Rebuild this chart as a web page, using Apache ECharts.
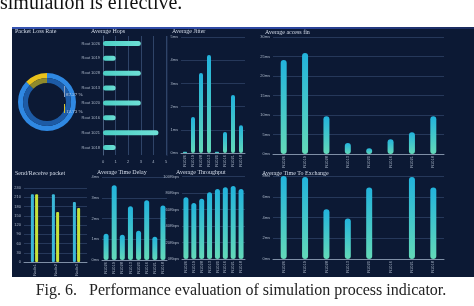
<!DOCTYPE html>
<html><head><meta charset="utf-8">
<script src="https://cdn.jsdelivr.net/npm/echarts@6/dist/echarts.min.js"></script>
<style>html,body{margin:0;padding:0;background:#fff}#c{width:474px;height:306px}</style>
</head><body><div id="c"></div>
<script>
const lossNames = ['Delivered', 'Lost'];
const lossVals = [87.27, 12.73];
const hopsCats = ['Rout 1026','Rout 1019','Rout 1028','Rout 1013','Rout 1020','Rout 1016','Rout 1021','Rout 1018'];
const hopsVals = [3, 1, 3, 1, 3, 1, 4.4, 1];
const jitterCats = ['R1026','R1019','R1028','R1013','R1020','R1016','R1021','R1018'];
const jitterVals = [0.05, 1.55, 3.45, 4.22, 0.05, 0.9, 2.5, 1.2];
const accessCats = ['R1026','R1019','R1028','R1013','R1020','R1016','R1021','R1018'];
const accessVals = [24.1, 25.9, 9.7, 2.8, 1.5, 3.8, 5.6, 9.7];
const srCats = ['Node1', 'Node2', 'Node3'];
const sendVals = [220, 220, 195];
const recvVals = [220, 162, 175];
const delayCats = ['R1026','R1019','R1028','R1013','R1020','R1016','R1021','R1018'];
const delayVals = [1.27, 3.6, 1.22, 2.59, 1.41, 2.88, 1.12, 2.63];
const tputCats = ['R1026','R1019','R1028','R1013','R1020','R1016','R1021','R1018'];
const tputVals = [75, 68, 73, 81, 85, 87, 88.5, 85];
const exchCats = ['R1026','R1019','R1028','R1013','R1020','R1016','R1021','R1018'];
const exchVals = [8.1, 7.9, 4.8, 3.9, 6.9, 0, 7.9, 6.9];

const chart = echarts.init(document.getElementById('c'), null, {renderer: 'canvas'});
const lbl = '#aab6c8';
const split = '#26385a';
const grad = new echarts.graphic.LinearGradient(0, 0, 0, 1, [
  {offset: 0, color: '#22b3dc'}, {offset: 1, color: '#63d9b8'}]);
const hgrad = new echarts.graphic.LinearGradient(0, 0, 1, 0, [
  {offset: 0, color: '#4ccfc4'}, {offset: 1, color: '#6ee0d6'}]);

function g(left, top, width, height) {
  return {left, top, width, height, outerBoundsMode: 'none', containLabel: false};
}
function catX(idx, data) {
  return {type: 'category', gridIndex: idx, data,
    axisLine: {lineStyle: {color: '#7f8fa6', width: 1}}, axisTick: {show: false},
    axisLabel: {color: lbl, fontSize: 4, rotate: 90, margin: 2, interval: 0}};
}
function valY(idx, min, max, interval, unit) {
  return {type: 'value', gridIndex: idx, min, max, interval,
    axisLine: {show: false}, axisTick: {show: false},
    axisLabel: {color: lbl, fontSize: 4, margin: 3, formatter: '{value}' + unit},
    splitLine: {lineStyle: {color: split, width: 1}}};
}
function vbar(idx, data, w) {
  return {type: 'bar', xAxisIndex: idx, yAxisIndex: idx, data, barWidth: w,
    itemStyle: {color: grad, borderRadius: w / 2}};
}

const grids = [
  g(103, 36, 63, 119),
  g(181, 37, 64, 116),
  g(273, 37, 171, 117),
  g(24, 188, 63, 74),
  g(102, 177, 65, 83),
  g(182, 176.5, 63, 82.5),
  g(273, 176, 171, 83)
];

const xAxes = [
  {type: 'value', gridIndex: 0, min: 0, max: 5, interval: 1,
    axisLine: {show: false}, axisTick: {show: false},
    axisLabel: {color: lbl, fontSize: 4, margin: 5},
    splitLine: {lineStyle: {color: '#2f4468', width: 1}}},
  catX(1, jitterCats), catX(2, accessCats), catX(3, srCats),
  catX(4, delayCats), catX(5, tputCats), catX(6, exchCats)
];
const yAxes = [
  {type: 'category', gridIndex: 0, data: hopsCats, inverse: true,
    axisLine: {lineStyle: {color: '#4a5f80'}}, axisTick: {show: false},
    axisLabel: {color: lbl, fontSize: 4, margin: 3}},
  valY(1, 0, 5, 1, 'ms'), valY(2, 0, 30, 5, 'ms'), valY(3, 0, 240, 30, ''),
  valY(4, 0, 4, 1, 'ms'), valY(5, 0, 100, 20, 'Kbps'), valY(6, 0, 8, 2, 'ms')
];

const lossPct = lossVals.map(v => (v / lossVals.reduce((a, b) => a + b, 0) * 100).toFixed(2) + ' %');

const titles = [
  ['Packet Loss Rate', 15, 31], ['Average Hops', 91, 31], ['Average Jitter', 172, 31],
  ['Average access fin', 265, 32], ['Send/Receive packet', 15, 173], ['Average Time Delay', 97, 172],
  ['Average Throughput', 176, 172], ['Average Time To Exchange', 262, 173]
];

const option = {
  backgroundColor: '#ffffff',
  animation: false,
  grid: grids, xAxis: xAxes, yAxis: yAxes,
  graphic: [
    {type: 'rect', z: -10, shape: {x: 12, y: 27, width: 462, height: 250}, style: {fill: '#0c1934'}},
    {type: 'rect', z: -9, shape: {x: 12, y: 27, width: 462, height: 2},
      style: {fill: new echarts.graphic.LinearGradient(0, 0, 1, 0, [
        {offset: 0, color: '#3553b0'}, {offset: 0.6, color: '#2c46a0'}, {offset: 1, color: '#1a2a5a'}])}},
    {type: 'line', z: -5, shape: {x1: 167, y1: 36, x2: 167, y2: 156}, style: {stroke: '#24365a', lineWidth: 1}},
    {type: 'line', z: 5, shape: {x1: 64.5, y1: 86, x2: 64.5, y2: 97}, style: {stroke: '#8fa2c0', lineWidth: 1}},
    {type: 'line', z: 5, shape: {x1: 64.5, y1: 104, x2: 64.5, y2: 113}, style: {stroke: '#d8c428', lineWidth: 1}},
    {type: 'text', z: 5, style: {x: 66, y: 95, text: lossPct[0], fill: '#c9d3e3', font: '5px "Liberation Serif"', textVerticalAlign: 'middle'}},
    {type: 'text', z: 5, style: {x: 66, y: 112, text: lossPct[1], fill: '#c9d3e3', font: '5px "Liberation Serif"', textVerticalAlign: 'middle'}},
    {type: 'text', z: 5, style: {x: 0, y: 14, text: 'simulation is effective.', fill: '#111', font: '20px "Liberation Serif"', textVerticalAlign: 'bottom'}},
    {type: 'text', z: 5, style: {x: 241, y: 299, text: 'Fig. 6.   Performance evaluation of simulation process indicator.', fill: '#222', font: '16px "Liberation Serif"', textAlign: 'center', textVerticalAlign: 'bottom'}}
  ].concat(titles.map(t => ({type: 'text', z: 5, style: {x: t[1], y: t[2], text: t[0], fill: '#d4dcea', font: '6px "Liberation Serif"', textVerticalAlign: 'middle'}}))),
  series: [
    {type: 'pie', center: [47, 102], radius: [24, 29], clockwise: true, startAngle: 90,
      label: {show: false}, labelLine: {show: false}, silent: true,
      data: lossNames.map((n, i) => ({name: n, value: lossVals[i], itemStyle: {color: i === 0 ? '#2f88e2' : '#e9c21c'}}))},
    {type: 'pie', center: [47, 102], radius: [19, 24], clockwise: true, startAngle: 90,
      label: {show: false}, labelLine: {show: false}, silent: true,
      data: lossNames.map((n, i) => ({name: n, value: lossVals[i], itemStyle: {color: i === 0 ? '#1d5ba6' : '#8f8a2c'}}))},
    {type: 'bar', xAxisIndex: 0, yAxisIndex: 0, data: hopsVals, barWidth: 5,
      itemStyle: {color: hgrad, borderRadius: 2.5}},
    vbar(1, jitterVals, 4),
    vbar(2, accessVals, 6),
    {type: 'bar', xAxisIndex: 3, yAxisIndex: 3, data: sendVals, barWidth: 3, barGap: '40%',
      itemStyle: {color: '#3bb8d8', borderRadius: 1}},
    {type: 'bar', xAxisIndex: 3, yAxisIndex: 3, data: recvVals, barWidth: 3, barGap: '40%',
      itemStyle: {color: '#c6e23a', borderRadius: 1}},
    vbar(4, delayVals, 5),
    vbar(5, tputVals, 5),
    vbar(6, exchVals, 6)
  ]
};
chart.setOption(option);
</script></body></html>
